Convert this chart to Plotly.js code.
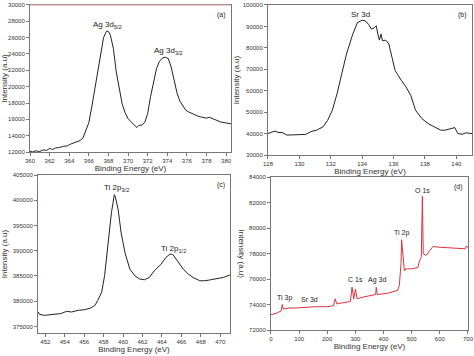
<!DOCTYPE html>
<html>
<head>
<meta charset="utf-8">
<script src="https://cdn.plot.ly/plotly-3.0.1.min.js"></script>
<style>html,body{margin:0;padding:0;background:#fff;}#chart{width:474px;height:356px;}</style>
</head>
<body>
<div id="chart"></div>
<script>
// Panel (a): Ag 3d
const agX = [360, 360.3, 360.6, 361, 361.3, 361.7, 362, 362.3, 362.6, 363, 363.4, 363.8, 364.1, 364.5, 364.8, 365.1, 365.4, 365.7, 366, 366.3, 366.6, 366.9, 367.2, 367.5, 367.8, 368, 368.2, 368.5, 368.8, 369.1, 369.4, 369.7, 370, 370.3, 370.6, 370.9, 371.1, 371.4, 371.7, 372, 372.3, 372.6, 372.9, 373.2, 373.5, 373.8, 374.1, 374.4, 374.7, 375, 375.3, 375.6, 375.9, 376.2, 376.5, 376.8, 377.1, 377.4, 377.7, 378, 378.3, 378.6, 378.9, 379.2, 379.5, 379.8, 380.1, 380.5];
const agY = [12100, 12000, 12150, 12050, 12250, 12200, 12450, 12300, 12500, 12550, 12700, 12750, 12950, 13150, 13250, 13400, 13700, 14600, 15600, 17500, 19700, 22000, 24300, 26000, 26800, 26750, 26300, 24700, 21800, 19800, 17900, 16800, 16100, 15700, 15300, 15000, 15250, 15300, 15600, 16700, 18800, 20600, 22200, 23100, 23500, 23600, 23450, 22400, 20700, 19200, 18200, 17600, 17100, 16900, 16700, 16500, 16400, 16300, 16200, 16150, 16250, 16100, 16000, 15800, 15650, 15600, 15500, 15450];

// Panel (b): Sr 3d
const srX = [128, 128.4, 128.7, 128.9, 129.2, 129.7, 130, 130.4, 130.8, 131.1, 131.5, 131.8, 132.1, 132.4, 132.7, 133.0, 133.4, 133.7, 134.0, 134.2, 134.4, 134.6, 134.8, 134.9, 135.0, 135.1, 135.2, 135.3, 135.5, 135.7, 135.9, 136.1, 136.5, 136.8, 137.1, 137.4, 137.8, 138.2, 138.6, 139.0, 139.3, 139.7, 139.9, 140.1, 140.4, 140.6, 141];
const srY = [40000, 41100, 40500, 40500, 39300, 39500, 39300, 39600, 41100, 41600, 43100, 46200, 50900, 58600, 67900, 77100, 86400, 91800, 92900, 92600, 91000, 88700, 89500, 90300, 86400, 83600, 86400, 83300, 83600, 81800, 75600, 69400, 64800, 61700, 57800, 50900, 47000, 44700, 43100, 41600, 41600, 42400, 42800, 40000, 39700, 40350, 40000];

// Panel (c): Ti 2p
const tiX = [451.25, 451.4, 451.9, 452.4, 452.8, 453.6, 454.2, 454.7, 455.4, 456.0, 456.6, 457.1, 457.4, 457.8, 458.1, 458.4, 458.8, 459.1, 459.2, 459.5, 459.8, 460.2, 460.7, 461.2, 461.7, 462.2, 462.7, 463.2, 463.9, 464.4, 464.8, 465.1, 465.6, 466.2, 466.7, 467.2, 467.9, 468.4, 468.9, 469.6, 470.3, 471.0];
const tiY = [377860, 377400, 377200, 377300, 377400, 377550, 378000, 377860, 378200, 378300, 378600, 379150, 380150, 381800, 385050, 390900, 397500, 401100, 400750, 398100, 393550, 389600, 386350, 385050, 384400, 384250, 384700, 386000, 387300, 388650, 389300, 389300, 388000, 386350, 385400, 384700, 384050, 384050, 384200, 384400, 384700, 385200];

// Panel (d): survey
const svX = [0, 18, 36, 40, 44, 66, 90, 114, 162, 198, 222, 228, 234, 258, 282, 288, 294, 300, 306, 330, 354, 372, 374, 378, 414, 450, 456, 462, 464, 469, 474, 480, 498, 522, 528, 534, 538, 541, 552, 564, 576, 594, 642, 690, 695, 700];
const svY = [73200, 73300, 73500, 74000, 73650, 73730, 73730, 73780, 73830, 73830, 73900, 74450, 74050, 74150, 74230, 75350, 74450, 75200, 74450, 74600, 74700, 74780, 75350, 74780, 74880, 75100, 75500, 77200, 79080, 77450, 76650, 76800, 76800, 76900, 77450, 77700, 82480, 77970, 77850, 78240, 78550, 78500, 78450, 78370, 78600, 78450];

const panelLabels = ['(a)', '(b)', '(c)', '(d)'];
const xTitle = 'Binding Energy (eV)';
const yTitle = 'Intensity (a.u)';

const FONT = 'Liberation Sans, Arial, sans-serif';
const traces = [
  {x: agX, y: agY, xaxis: 'x', yaxis: 'y', type: 'scatter', mode: 'lines', line: {color: '#222', width: 1}},
  {x: srX, y: srY, xaxis: 'x2', yaxis: 'y2', type: 'scatter', mode: 'lines', line: {color: '#222', width: 1}},
  {x: tiX, y: tiY, xaxis: 'x3', yaxis: 'y3', type: 'scatter', mode: 'lines', line: {color: '#222', width: 1}},
  {x: svX, y: svY, xaxis: 'x4', yaxis: 'y4', type: 'scatter', mode: 'lines', line: {color: '#d9333f', width: 1}}
];

function ax(extra) {
  return Object.assign({
    showline: true, linecolor: '#777', linewidth: 1, mirror: true,
    ticks: 'outside', ticklen: 3, tickcolor: '#777', tickwidth: 1,
    tickfont: {size: 6, color: '#333', family: FONT},
    showgrid: false, zeroline: false, automargin: false
  }, extra);
}
const tf = {size: 8, color: '#333', family: FONT};
const af = {size: 8, color: '#222', family: FONT};
const sf = {size: 7, color: '#222', family: FONT};

const layout = {
  width: 474, height: 356,
  margin: {l: 0, r: 0, t: 0, b: 0},
  paper_bgcolor: '#fff', plot_bgcolor: '#fff',
  showlegend: false,
  font: {family: FONT},
  xaxis: ax({domain: [0.0633, 0.4873], anchor: 'y', range: [360, 380.5], dtick: 2, tick0: 360, title: {text: xTitle, font: tf, standoff: 2}}),
  yaxis: ax({domain: [0.573, 0.986], anchor: 'x', range: [12000, 30000], dtick: 2000, tickformat: 'd', title: {text: yTitle, font: tf, standoff: 3}}),
  xaxis2: ax({domain: [0.5654, 0.9958], anchor: 'y2', range: [128, 141], dtick: 2, tick0: 128, title: {text: xTitle, font: tf, standoff: 2}}),
  yaxis2: ax({domain: [0.5646, 0.986], anchor: 'x2', range: [30000, 100000], dtick: 10000, tickformat: 'd', title: {text: yTitle, font: tf, standoff: 1}}),
  xaxis3: ax({domain: [0.0802, 0.4852], anchor: 'y3', range: [451.25, 471], dtick: 2, tick0: 452, title: {text: xTitle, font: tf, standoff: 2}}),
  yaxis3: ax({domain: [0.0646, 0.5084], anchor: 'x3', range: [373700, 405000], dtick: 5000, tick0: 375000, tickformat: 'd', title: {text: yTitle, font: tf, standoff: 3}}),
  xaxis4: ax({domain: [0.5717, 0.9873], anchor: 'y4', range: [0, 700], dtick: 100, tick0: 0, title: {text: xTitle, font: tf, standoff: 2}}),
  yaxis4: ax({domain: [0.073, 0.5028], anchor: 'x4', range: [72000, 84000], dtick: 2000, tickformat: 'd'}),
  shapes: [
    {type: 'line', xref: 'x domain', yref: 'y domain', x0: 0, x1: 1, y0: 1, y1: 1, line: {color: '#dca0a0', width: 1}}
  ],
  annotations: [
    {xref: 'x', yref: 'y', x: 367.9, y: 27600, text: 'Ag 3d<sub>5/2</sub>', showarrow: false, font: af},
    {xref: 'x', yref: 'y', x: 374.1, y: 24400, text: 'Ag 3d<sub>3/2</sub>', showarrow: false, font: af},
    {xref: 'x2', yref: 'y2', x: 133.9, y: 95400, text: 'Sr 3d', showarrow: false, font: af},
    {xref: 'x3', yref: 'y3', x: 459.3, y: 402400, text: 'Ti 2p<sub>3/2</sub>', showarrow: false, font: af},
    {xref: 'x3', yref: 'y3', x: 465.2, y: 390300, text: 'Ti 2p<sub>1/2</sub>', showarrow: false, font: af},
    {xref: 'x4', yref: 'y4', x: 48, y: 74500, text: 'Ti 3p', showarrow: false, font: sf},
    {xref: 'x4', yref: 'y4', x: 136, y: 74360, text: 'Sr 3d', showarrow: false, font: sf},
    {xref: 'x4', yref: 'y4', x: 300, y: 75930, text: 'C 1s', showarrow: false, font: sf},
    {xref: 'x4', yref: 'y4', x: 378, y: 75930, text: 'Ag 3d', showarrow: false, font: sf},
    {xref: 'x4', yref: 'y4', x: 462, y: 79600, text: 'Ti 2p', showarrow: false, font: sf},
    {xref: 'x4', yref: 'y4', x: 540, y: 82950, text: 'O 1s', showarrow: false, font: sf},
    {xref: 'x domain', yref: 'y domain', x: 0.985, y: 0.975, xanchor: 'right', yanchor: 'top', text: panelLabels[0], showarrow: false, font: sf},
    {xref: 'x2 domain', yref: 'y2 domain', x: 0.985, y: 0.975, xanchor: 'right', yanchor: 'top', text: panelLabels[1], showarrow: false, font: sf},
    {xref: 'x3 domain', yref: 'y3 domain', x: 0.985, y: 0.975, xanchor: 'right', yanchor: 'top', text: panelLabels[2], showarrow: false, font: sf},
    {xref: 'x4 domain', yref: 'y4 domain', x: 0.985, y: 0.975, xanchor: 'right', yanchor: 'top', text: panelLabels[3], showarrow: false, font: sf},
    {xref: 'paper', yref: 'y4 domain', x: 241 / 474, y: 0.5, textangle: 90, text: yTitle, showarrow: false, font: tf}
  ]
};

Plotly.newPlot('chart', traces, layout, {displayModeBar: false, staticPlot: true});
</script>
</body>
</html>
